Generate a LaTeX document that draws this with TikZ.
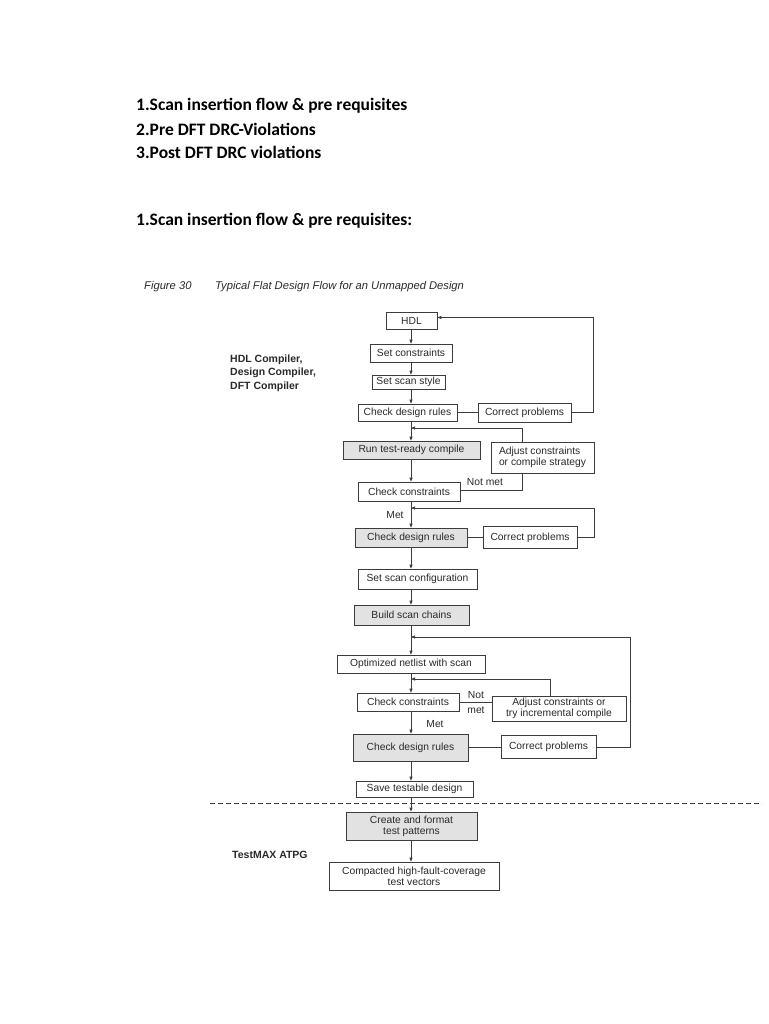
\documentclass[tikz,border=0pt]{standalone}
\usepackage{fontspec}
\setmainfont{Liberation Sans}
\newfontfamily\hfont{Carlito}
\usetikzlibrary{arrows.meta}
\definecolor{ln}{HTML}{3C3C3C}
\definecolor{tx}{HTML}{2A2A2A}
\definecolor{gf}{HTML}{E2E2E2}
\begin{document}
\begin{tikzpicture}[x=1pt,y=-1pt,
  box/.style={draw=ln,line width=0.7pt,inner sep=1pt,text=tx,align=center,
    font=\fontsize{10.3}{11}\selectfont},
  gbox/.style={box,fill=gf},
  arr/.style={draw=ln,line width=0.7pt,-{Triangle[length=4pt,width=3pt]}},
  ln/.style={draw=ln,line width=0.7pt},
  lab/.style={inner sep=0pt,text=tx,font=\fontsize{10.3}{11}\selectfont},
  blab/.style={inner sep=0pt,text=tx,anchor=west,font=\fontsize{10.5}{13.5}\selectfont\bfseries,align=left},
  head/.style={inner sep=0pt,anchor=west,text=black,font=\hfont\fontsize{17.5}{20}\selectfont\bfseries}]
\useasboundingbox (0,0) rectangle (768,1024);
\fill[white] (0,0) rectangle (768,1024);
% headers
\node[head] (h1) at (136,106) {1.Scan insertion flow \& pre requisites};
\node[head] (h2) at (136,129) {2.Pre DFT DRC-Violations};
\node[head] (h3) at (136,152) {3.Post DFT DRC violations};
\node[head] (h4) at (136,221) {1.Scan insertion flow \& pre requisites:};
% caption
\node[lab,anchor=west,font=\fontsize{11.2}{12}\selectfont\itshape] (fig) at (144,287) {Figure 30};
\node[lab,anchor=west,font=\fontsize{11.2}{12}\selectfont\itshape] (cap) at (215,287) {Typical Flat Design Flow for an Unmapped Design};
\node[blab] (tools) at (230,373) {HDL Compiler,\\Design Compiler,\\DFT Compiler};
\node[blab] (atpg) at (232,855) {TestMAX ATPG};
% boxes
\node[box,minimum width=51,minimum height=17] (hdl) at (411.5,320.5) {HDL};
\node[box,minimum width=82,minimum height=18] (sc) at (411,353) {Set constraints};
\node[box,minimum width=73,minimum height=14] (sss) at (408.5,382) {Set scan style};
\node[box,minimum width=99,minimum height=17] (cdr1) at (407.5,412.5) {Check design rules};
\node[box,minimum width=93,minimum height=19] (cp1) at (524.5,412.5) {Correct problems};
\node[gbox,minimum width=137,minimum height=18] (rtc) at (411.5,450) {Run test-ready compile};
\node[box,minimum width=103,minimum height=31,align=left] (adj1) at (542.5,457.5) {Adjust constraints\\or compile strategy};
\node[box,minimum width=102,minimum height=19] (cc1) at (409,491.5) {Check constraints};
\node[gbox,minimum width=112,minimum height=19] (cdr2) at (411,537.5) {Check design rules};
\node[box,minimum width=94,minimum height=22] (cp2) at (530,537.5) {Correct problems};
\node[box,minimum width=119,minimum height=20] (ssc) at (417.5,579) {Set scan configuration};
\node[gbox,minimum width=115,minimum height=20] (bsc) at (411.5,615) {Build scan chains};
\node[box,minimum width=148,minimum height=18] (onl) at (411,664) {Optimized netlist with scan};
\node[box,minimum width=102,minimum height=18] (cc2) at (408,702) {Check constraints};
\node[box,minimum width=134,minimum height=25] (adj2) at (559,708.5) {\fontsize{10.3}{10}\selectfont Adjust constraints or\\try incremental compile};
\node[gbox,minimum width=115,minimum height=27] (cdr3) at (410.5,747.5) {Check design rules};
\node[box,minimum width=95,minimum height=23] (cp3) at (548.5,747) {Correct problems};
\node[box,minimum width=117,minimum height=16] (std) at (414.5,789) {Save testable design};
\node[gbox,minimum width=131,minimum height=28] (caf) at (411.5,826) {\fontsize{10.3}{11}\selectfont Create and format\\test patterns};
\node[box,minimum width=170,minimum height=28] (cmp) at (414,876) {\fontsize{10.3}{11}\selectfont Compacted high-fault-coverage\\test vectors};
% labels
\node[lab] (nm1) at (485,482) {Not met};
\node[lab] (met1) at (395,515) {Met};
\node[lab] (not2) at (476,695) {Not};
\node[lab] (met2a) at (476,710) {met};
\node[lab] (met2) at (435,724) {Met};
% coordinates
\coordinate (m) at (411,0);
\coordinate (j1) at (411,428);
\coordinate (j2) at (411,508);
\coordinate (j3) at (411,637);
\coordinate (j4) at (411,679);
\coordinate (r1) at (593,0);
\coordinate (r2) at (594,0);
\coordinate (r3) at (630,0);
\coordinate (d1) at (210,803);
\coordinate (d2) at (762,803);
% main flow
\draw[arr] (hdl.south -| m) -- (sc.north -| m);
\draw[arr] (sc.south -| m) -- (sss.north -| m);
\draw[arr] (sss.south -| m) -- (cdr1.north -| m);
\draw[arr] (cdr1.south -| m) -- (rtc.north -| m);
\draw[arr] (rtc.south -| m) -- (cc1.north -| m);
\draw[arr] (cc1.south -| m) -- (cdr2.north -| m);
\draw[arr] (cdr2.south -| m) -- (ssc.north -| m);
\draw[arr] (ssc.south -| m) -- (bsc.north -| m);
\draw[arr] (bsc.south -| m) -- (onl.north -| m);
\draw[arr] (onl.south -| m) -- (cc2.north -| m);
\draw[arr] (cc2.south -| m) -- (cdr3.north -| m);
\draw[arr] (cdr3.south -| m) -- (std.north -| m);
\draw[arr] (std.south -| m) -- (caf.north -| m);
\draw[arr] (caf.south -| m) -- (cmp.north -| m);
% side connections
\draw[ln] (cdr1.east) -- (cdr1.east -| cp1.west);
\draw[arr] (cp1.east) -- (cp1.east -| r1) |- ([yshift=3pt]hdl.east);
\draw[arr] ([xshift=-20.5pt]adj1.north) |- (j1);
\draw[ln] ([yshift=1.5pt]cc1.east) -| ([xshift=-20.5pt]adj1.south);
\draw[ln] (cdr2.east) -- (cdr2.east -| cp2.west);
\draw[arr] (cp2.east) -- (cp2.east -| r2) |- (j2);
\draw[ln] (cc2.east) -- (cc2.east -| adj2.west);
\draw[arr] ([xshift=-9pt]adj2.north) |- (j4);
\draw[ln] (cdr3.east) -- (cdr3.east -| cp3.west);
\draw[arr] (cp3.east) -- (cp3.east -| r3) |- (j3);
\draw[ln,dashed,dash pattern=on 5pt off 3pt] (d1) -- (d2);
\end{tikzpicture}
\end{document}
